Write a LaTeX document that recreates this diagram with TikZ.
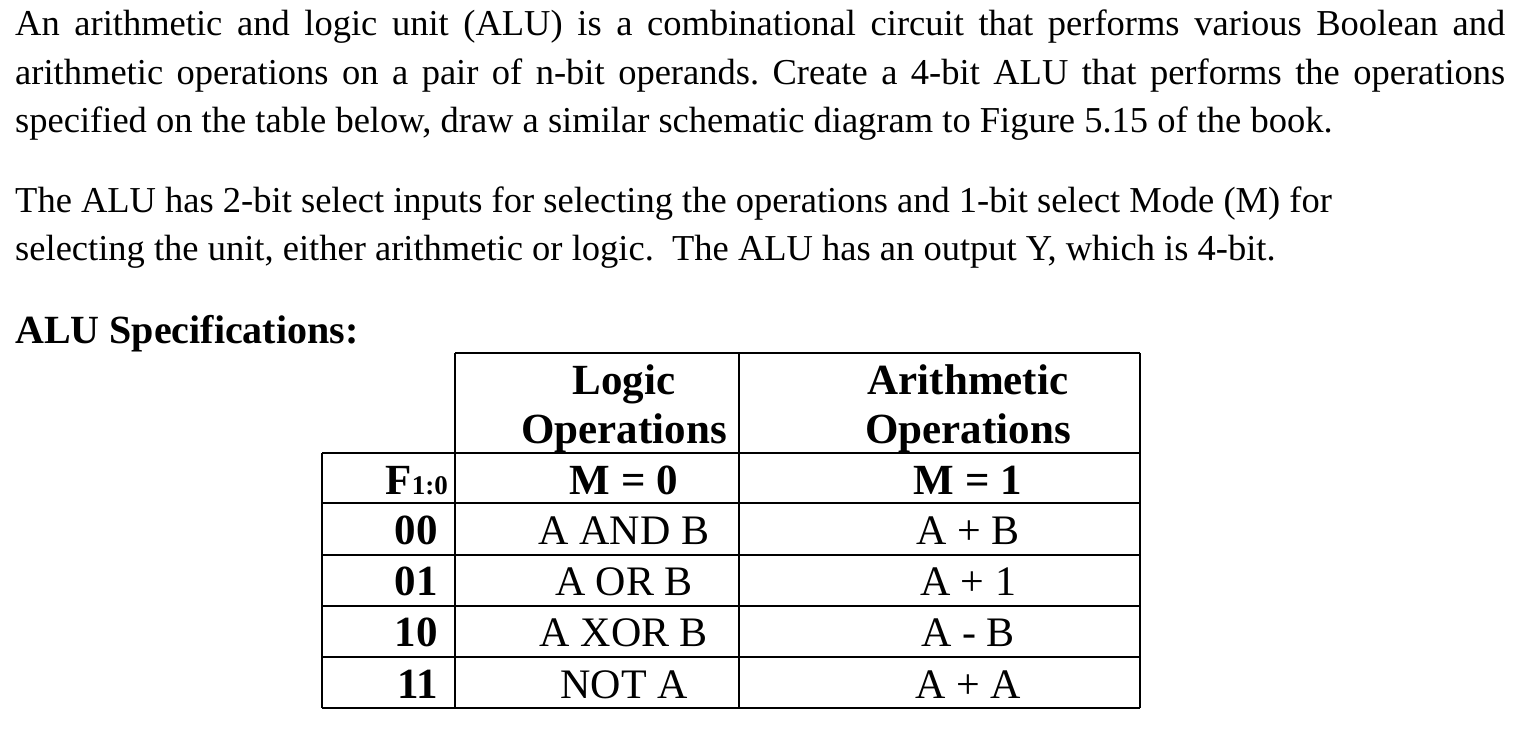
\documentclass[tikz,border=0pt]{standalone}
\usepackage{fontspec}
\setmainfont{Liberation Serif}
\frenchspacing
\begin{document}
\begin{tikzpicture}[x=1pt,y=-1pt,
 body/.style={anchor=base west,inner sep=0pt,font=\fontsize{36.5}{40}\selectfont},
 cell/.style={anchor=base,inner sep=0pt,font=\fontsize{42}{46}\selectfont},
 bcell/.style={cell,font=\fontsize{43}{46}\selectfont\bfseries},
 grid/.style={line width=1.2pt}]
\useasboundingbox (0,0) rectangle (1531,735);
\node[body] (l1) at (15,36) {\makebox[1490pt][s]{An arithmetic and logic unit (ALU) is a combinational circuit that performs various Boolean and}};
\node[body] (l2) at (15,85) {\makebox[1490pt][s]{arithmetic operations on a pair of n-bit operands. Create a 4-bit ALU that performs the operations}};
\node[body] (l3) at (15,133) {specified on the table below, draw a similar schematic diagram to Figure 5.15 of the book.};
\node[body] (l4) at (15,213) {The ALU has 2-bit select inputs for selecting the operations and 1-bit select Mode (M) for};
\node[body] (l5) at (15,261) {selecting the unit, either arithmetic or logic.\ \ The ALU has an output Y, which is 4-bit.};
\node[body,font=\fontsize{40}{44}\selectfont\bfseries] (l6) at (15,343) {ALU Specifications:};
% table
\draw[grid] (455,353) -- (1140,353);
\draw[grid] (455,353) -- (455,708);
\draw[grid] (739,353) -- (739,708);
\draw[grid] (1140,353) -- (1140,708);
\draw[grid] (322,453) -- (322,708);
\foreach \y in {453,503,555,606,657,708} \draw[grid] (322,\y) -- (1140,\y);
\node[bcell] (h1a) at (624,394) {Logic};
\node[bcell] (h1b) at (624,443) {Operations};
\node[bcell] (h2a) at (968,394) {Arithmetic};
\node[bcell] (h2b) at (968,443) {Operations};
\node[bcell,anchor=base east] (f) at (448,494) {F{\fontsize{27}{30}\selectfont 1:0}};
\node[bcell] (m0) at (624,494) {M = 0};
\node[bcell] (m1) at (968,494) {M = 1};
\foreach \n/\y/\c/\lg/\ar in {a/544/00/A AND B/A + B,b/595/01/A OR B/A + 1,c/646/10/A XOR B/A - B,d/698/11/NOT A/A + A}{
 \node[bcell,anchor=base east] (c\n) at (438,\y) {\c};
 \node[cell] (lg\n) at (624,\y) {\lg};
 \node[cell] (ar\n) at (968,\y) {\ar};
}
\end{tikzpicture}
\end{document}
